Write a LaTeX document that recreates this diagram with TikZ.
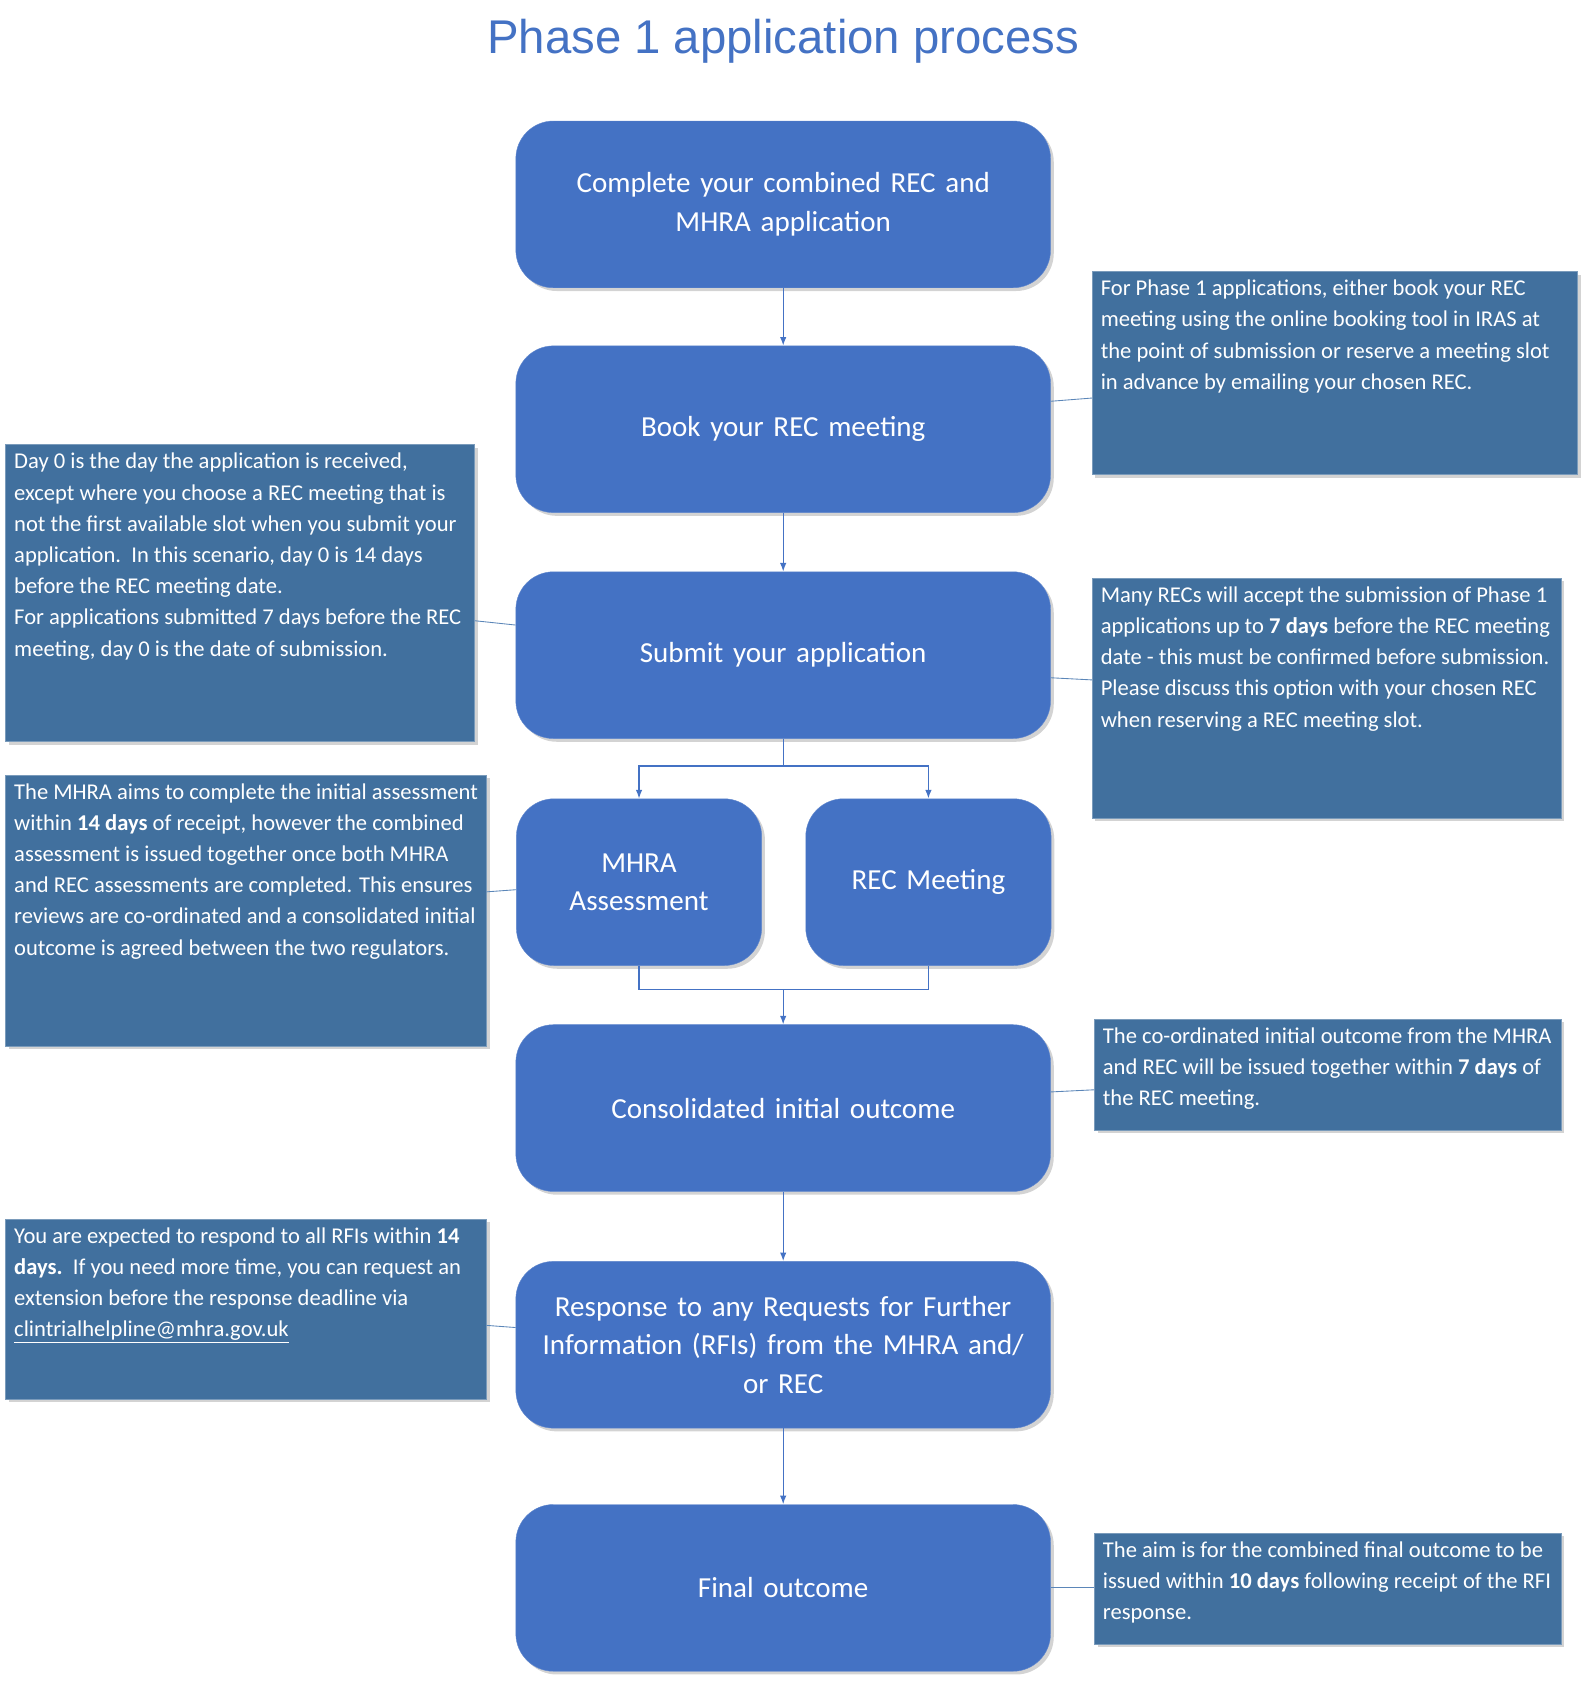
\documentclass[tikz,border=0pt]{standalone}
\usepackage{fontspec}
\setmainfont{Carlito}
\newfontfamily\titlefont{Liberation Sans}
\usetikzlibrary{shadows,arrows.meta}
\definecolor{stepblue}{HTML}{4472C4}
\definecolor{noteblue}{HTML}{41709E}
\definecolor{linkblue}{HTML}{5B86B8}
\newcommand{\notetext}[3]{\parbox[t][#2pt][t]{#1pt}{\raggedright #3}}
\begin{document}
\begin{tikzpicture}[x=1pt,y=-1pt,
    phase/.style={draw=stepblue!85!white, fill=stepblue, rounded corners=35pt, text=white,
      font=\fontsize{27}{36}\selectfont, align=center, inner sep=6pt,
      minimum height=155pt, drop shadow={opacity=0.35,shadow xshift=3pt,shadow yshift=-3pt}},
    note/.style={draw=noteblue!70!white, fill=noteblue, text=white, anchor=north west,
      font=\fontsize{21}{29}\selectfont, inner sep=8pt,
      drop shadow={opacity=0.35,shadow xshift=3pt,shadow yshift=-3pt}},
    flow/.style={draw=stepblue, line width=1.2pt, -{Latex[length=8pt,width=6pt]}},
    link/.style={draw=linkblue, line width=0.8pt}]

  \useasboundingbox (0,0) rectangle (1480,1570);

  \node[text=stepblue, font=\titlefont\fontsize{44}{50}\selectfont] (title) at (728,38) {Phase 1 application process};

  % main steps
  \node[phase, minimum width=497pt, text width=470pt] (s1) at (728,190) {Complete your combined REC and\\MHRA application};
  \node[phase, minimum width=497pt, text width=470pt] (s2) at (728,399) {Book your REC meeting};
  \node[phase, minimum width=497pt, text width=470pt] (s3) at (728,609) {Submit your application};
  \node[phase, minimum width=228pt, text width=210pt] (mhra) at (594,820) {MHRA\\Assessment};
  \node[phase, minimum width=228pt, text width=210pt] (rec) at (863,820) {REC Meeting};
  \node[phase, minimum width=497pt, text width=470pt] (s4) at (728,1030) {Consolidated initial outcome};
  \node[phase, minimum width=497pt, text width=470pt] (s5) at (728,1250) {Response to any Requests for Further\\Information (RFIs) from the MHRA and/\\or REC};
  \node[phase, minimum width=497pt, text width=470pt] (s6) at (728,1476) {Final outcome};

  % notes
  \node[note] (n1) at (1015,252) {\notetext{435}{173}{For Phase 1 applications, either book your REC meeting using the online booking tool in IRAS at the point of submission or reserve a meeting slot in advance by emailing your chosen REC.}};
  \node[note] (n2) at (5,413) {\notetext{420}{260}{Day 0 is the day the application is received, except where you choose a REC meeting that is not the first available slot when you submit your application.\ \ In this scenario, day 0 is 14 days before the REC meeting date.\\For applications submitted 7 days before the REC meeting, day 0 is the date of submission.}};
  \node[note] (n3) at (1015,537) {\notetext{420}{207}{Many RECs will accept the submission of Phase 1 applications up to \textbf{7 days} before the REC meeting date - this must be confirmed before submission.\ \ Please discuss this option with your chosen REC when reserving a REC meeting slot.}};
  \node[note] (n4) at (5,720) {\notetext{431}{236}{The MHRA aims to complete the initial assessment within \textbf{14 days} of receipt, however the combined assessment is issued together once both MHRA and REC assessments are completed. This ensures reviews are co-ordinated and a consolidated initial outcome is agreed between the two regulators.}};
  \node[note] (n5) at (1017,947) {\notetext{418}{87}{The co-ordinated initial outcome from the MHRA and REC will be issued together within \textbf{7 days} of the REC meeting.}};
  \node[note] (n6) at (5,1133) {\notetext{431}{151}{You are expected to respond to all RFIs within \textbf{14 days.}\ \ If you need more time, you can request an extension before the response deadline via \underline{clintrialhelpline@mhra.gov.uk}}};
  \node[note] (n7) at (1017,1425) {\notetext{418}{87}{The aim is for the combined final outcome to be issued within \textbf{10 days} following receipt of the RFI response.}};

  % flow
  \coordinate (split) at (728,712);
  \coordinate (join) at (728,920);
  \draw[flow] (s1) -- (s2);
  \draw[flow] (s2) -- (s3);
  \draw[flow] (s3.south) -- (split) -| (mhra.north);
  \draw[flow] (split) -| (rec.north);
  \draw[draw=stepblue, line width=1.2pt] (mhra.south) |- (join) -| (rec.south);
  \draw[flow] (join) -- (s4.north);
  \draw[flow] (s4) -- (s5);
  \draw[flow] (s5) -- (s6);

  % links to notes
  \draw[link] (s2.east |- 0,373) -- (n1.west |- 0,370);
  \draw[link] (n2.east |- 0,577) -- (s3.west |- 0,581);
  \draw[link] (s3.east |- 0,630) -- (n3.west |- 0,632);
  \draw[link] (n4.east |- 0,829) -- (mhra.west |- 0,827);
  \draw[link] (s4.east |- 0,1015) -- (n5.west |- 0,1013);
  \draw[link] (n6.east |- 0,1232) -- (s5.west |- 0,1234);
  \draw[link] (s6.east) -- (n7.west |- s6.east);
\end{tikzpicture}
\end{document}
